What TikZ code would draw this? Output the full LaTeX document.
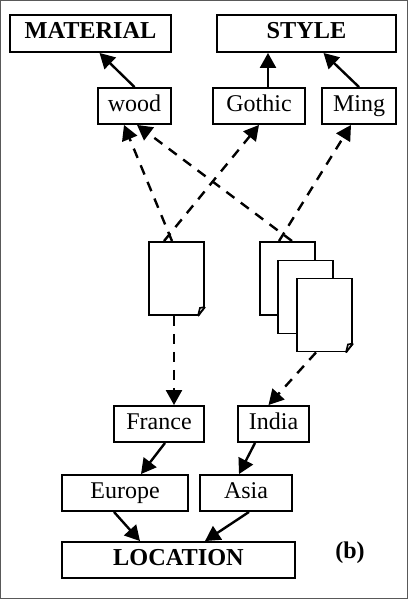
\documentclass[tikz,border=0pt]{standalone}
\usepackage{fontspec}
\setmainfont{Liberation Serif}
\usetikzlibrary{arrows.meta,calc,positioning}
\tikzset{
 termbox/.style={draw,line width=1.9pt,inner sep=0pt,text height=16pt,text depth=6pt,font=\fontsize{24}{26}\selectfont},
 headbox/.style={termbox,font=\fontsize{24.3}{26}\selectfont\bfseries},
 docpage/.style={draw,fill=white,line width=1.9pt,inner sep=0pt,minimum width=55pt,minimum height=73pt},
 solidlink/.style={-{Triangle[length=15pt,width=16pt]},line width=2.4pt},
 dashlink/.style={solidlink,dash pattern=on 10pt off 8pt}
}
\begin{document}
\begin{tikzpicture}[x=1pt,y=-1pt]
\useasboundingbox (0,0) rectangle (408,599);
\draw[gray!70!black,line width=1pt] (.5,.5) rectangle (407.5,598.5);
% top row
\node[headbox,minimum width=161pt,minimum height=37pt] (material) at (90.5,33.5) {MATERIAL};
\node[headbox,minimum width=179pt,minimum height=37pt] (style) at (306.5,33.5) {STYLE};
\node[termbox,minimum width=73pt,minimum height=36pt] (wood) at (134.5,106) {wood};
\node[termbox,minimum width=92pt,minimum height=36pt] (gothic) at (259,106) {Gothic};
\node[termbox,minimum width=74pt,minimum height=36pt] (ming) at (359,106) {Ming};
% documents
\foreach \name/\cx/\cy in {single/176.5/278.5,stacka/287.5/278.5,stackb/305.5/297,stackc/324.5/315}{
 \node[docpage] (\name) at (\cx,\cy) {};
 \fill[white] ($(\name.south east)+(-6.5,1)$) -- ++(7.5,0) -- ++(0,-10) -- cycle;
 \draw[line width=1.9pt] ($(\name.south east)+(-7,0)$) -- ($(\name.south east)+(0,-9)$);
 \draw[line width=1.6pt] ($(\name.south east)+(-7,0)$) -- ++(2,-8) -- ($(\name.south east)+(0,-9)$);
}
% bottom rows
\node[termbox,minimum width=90pt,minimum height=36pt] (france) at (159,424) {France};
\node[termbox,minimum width=71pt,minimum height=36pt] (india) at (273.5,424) {India};
\node[termbox,minimum width=126pt,minimum height=36pt] (europe) at (125,493) {Europe};
\node[termbox,minimum width=92pt,minimum height=36pt] (asia) at (246,493) {Asia};
\node[headbox,minimum width=233pt,minimum height=36pt,text height=15pt,text depth=4pt] (location) at (178.5,560) {LOCATION};
\node[font=\fontsize{24}{26}\selectfont\bfseries,inner sep=0pt] (panel) at (350,553) {(b)};
% links
\draw[solidlink] (wood.north) -- ([xshift=9pt]material.south);
\draw[solidlink] ([xshift=9pt]gothic.north) -- ([xshift=-38.5pt]style.south);
\draw[solidlink] (ming.north) -- ([xshift=17pt]style.south);
\draw[dashlink] ([xshift=-4.5pt]single.north) -- ([xshift=-10.5pt]wood.south);
\draw[dashlink] ([xshift=-12.5pt]single.north) -- (gothic.south);
\draw[dashlink] ([xshift=-8.5pt]stacka.north) -- ([xshift=-8pt]ming.south);
\draw[dashlink] ([xshift=4.5pt]stacka.north) -- ([xshift=2.5pt]wood.south);
\draw[dashlink] ([xshift=-2.5pt]single.south) -- ([xshift=15pt]france.north);
\draw[dashlink] ([xshift=-8.5pt]stackc.south) -- ([xshift=-5pt]india.north);
\draw[solidlink] ([xshift=6pt]france.south) -- ([xshift=-18pt]europe.north -| france.south);
\draw[solidlink] ([xshift=-18.5pt]india.south) -- ([xshift=-7pt]asia.north);
\draw[solidlink] ([xshift=-11pt]europe.south) -- ([xshift=-38.5pt]location.north);
\draw[solidlink] ([xshift=3pt]asia.south) -- ([xshift=26.5pt]location.north);
\end{tikzpicture}
\end{document}
